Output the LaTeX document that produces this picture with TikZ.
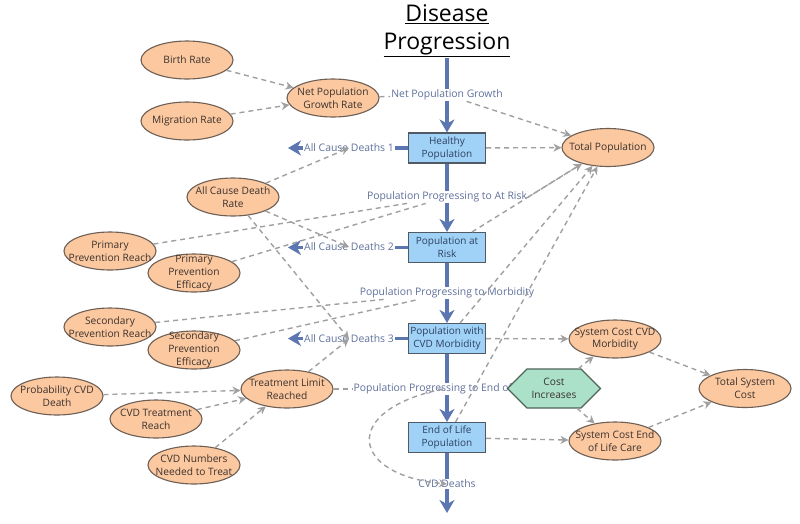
\documentclass[tikz,border=0pt]{standalone}
\usepackage{fontspec}
\setmainfont{Open Sans}
\usetikzlibrary{arrows.meta,shapes.geometric,calc}
\definecolor{ellf}{RGB}{251,200,160}
\definecolor{elld}{RGB}{110,95,85}
\definecolor{boxf}{RGB}{160,210,248}
\definecolor{boxd}{RGB}{80,90,100}
\definecolor{hexf}{RGB}{170,225,200}
\definecolor{hexd}{RGB}{80,100,90}
\definecolor{flowc}{RGB}{92,118,178}
\definecolor{flowt}{RGB}{95,112,155}
\definecolor{depc}{RGB}{160,160,160}
\definecolor{txtc}{RGB}{60,50,45}
\definecolor{boxt}{RGB}{45,65,95}
\begin{document}
\begin{tikzpicture}[x=1pt,y=-1pt,
  ell/.style={ellipse, draw=elld, fill=ellf, line width=1.1pt, minimum width=92pt, minimum height=38pt, inner sep=0pt},
  elltext/.style={align=center, text=txtc, font=\fontsize{10.2}{12.8}\selectfont, inner sep=0pt},
  stock/.style={rectangle, draw=boxd, fill=boxf, line width=1.1pt, minimum width=77pt, minimum height=30pt, inner sep=0pt},
  stocktext/.style={align=center, text=boxt, font=\fontsize{10}{12.8}\selectfont, inner sep=0pt},
  flowlab/.style={fill=white, inner sep=1pt, text=flowt, font=\fontsize{10.4}{12}\selectfont},
  flow/.style={draw=flowc, line width=3.2pt, -{Stealth[length=13pt,width=15pt,inset=4pt]}},
  dep/.style={draw=depc, line width=1.4pt, dash pattern=on 5pt off 4pt, -{Stealth[length=8pt,width=8pt,inset=2.5pt]}},
  link/.style={draw=depc, line width=1.4pt, dash pattern=on 5pt off 4pt},
]
\useasboundingbox (0,0) rectangle (800,523);
\fill[white] (0,0) rectangle (800,523);

% title
\node[font=\fontsize{23}{28}\selectfont, align=center, inner sep=0pt] (title) at (447,31) {\underline{Disease}\\\underline{Progression}};

% stocks
\node[stock, label={[stocktext]center:{Healthy\\Population}}] (healthy) at (447,148) {};
\node[stock, label={[stocktext]center:{Population at\\Risk}}] (risk) at (447,247.5) {};
\node[stock, label={[stocktext]center:{Population with\\CVD Morbidity}}] (morb) at (447,338.5) {};
\node[stock, label={[stocktext]center:{End of Life\\Population}}] (eol) at (447,437.5) {};

% variables
\node[ell, label={[elltext]center:{Birth Rate}}] (birth) at (187,60) {};
\node[ell, label={[elltext]center:{Migration Rate}}] (migr) at (187,121) {};
\node[ell, label={[elltext]center:{Net Population\\Growth Rate}}] (netpop) at (333,98) {};
\node[ell, label={[elltext]center:{Total Population}}] (totpop) at (608,147.5) {};
\node[ell, label={[elltext]center:{All Cause Death\\Rate}}] (acdr) at (233,197) {};
\node[ell, label={[elltext]center:{Primary\\Prevention Reach}}] (preach) at (110,251) {};
\node[ell, label={[elltext]center:{Primary\\Prevention\\Efficacy}}] (peff) at (194,273) {};
\node[ell, label={[elltext]center:{Secondary\\Prevention Reach}}] (sreach) at (110,327) {};
\node[ell, label={[elltext]center:{Secondary\\Prevention\\Efficacy}}] (seff) at (194,350) {};
\node[ell, label={[elltext]center:{Probability CVD\\Death}}] (prob) at (57,396) {};
\node[ell, label={[elltext]center:{CVD Treatment\\Reach}}] (treach) at (156,419) {};
\node[ell, label={[elltext]center:{CVD Numbers\\Needed to Treat}}] (nnt) at (194,465) {};
\node[ell, label={[elltext]center:{Treatment Limit\\Reached}}] (tlr) at (287,389) {};
\node[ell, label={[elltext]center:{System Cost CVD\\Morbidity}}] (sccvd) at (615,339) {};
\node[ell, label={[elltext]center:{System Cost End\\of Life Care}}] (sceol) at (615,441) {};
\node[ell, label={[elltext]center:{Total System\\Cost}}] (totsys) at (745,388.5) {};

% flows
\coordinate (src) at (447,58);
\coordinate (sink) at (447,513);
\coordinate (d1) at (288,148);
\coordinate (d2) at (288,247.5);
\coordinate (d3) at (288,338.5);
\draw[flow] (src) -- (healthy);
\draw[flow] (healthy) -- (risk);
\draw[flow] (risk) -- (morb);
\draw[flow] (morb) -- (eol);
\draw[flow] (eol) -- (sink);
\draw[flow] (healthy) -- (d1);
\draw[flow] (risk) -- (d2);
\draw[flow] (morb) -- (d3);

\node[flowlab] (ngrowth) at (447,95) {Net Population Growth};
\node[flowlab] (acd1) at (349,148) {All Cause Deaths 1};
\node[flowlab] (prog1) at (447,197) {Population Progressing to At Risk};
\node[flowlab] (acd2) at (349,247) {All Cause Deaths 2};
\node[flowlab] (prog2) at (447,293) {Population Progressing to Morbidity};
\node[flowlab] (acd3) at (349,339) {All Cause Deaths 3};
\node[flowlab] (prog3) at (443,389) {Population Progressing to End of Life};
\node[flowlab] (cvdd) at (447,484) {CVD Deaths};

% dependencies
\draw[dep] (birth) -- (netpop);
\draw[dep] (migr) -- (netpop);
\draw[link] (netpop) -- (ngrowth);
\draw[dep] (ngrowth) -- (totpop);
\draw[dep] (healthy) -- (totpop);
\draw[dep] (prog1.east) -- (totpop);
\draw[dep] (risk) -- (totpop);
\draw[dep] (morb) -- (totpop);
\draw[dep] (eol) -- (totpop);
\draw[dep] (acdr) -- (acd1.center);
\draw[dep] (acdr) -- (acd2.center);
\draw[dep] (acdr) -- (acd3.center);
\draw[link] (preach) -- (prog1);
\draw[link] (peff) -- (prog1);
\draw[link] (sreach) -- (prog2);
\draw[link] (seff) -- (prog2);
\draw[dep] (prob) -- (tlr);
\draw[dep] (treach) -- (tlr);
\draw[dep] (nnt) -- (tlr);
\draw[dep] (tlr) -- (acd3.center);
\draw[link] (tlr) -- (prog3);
\draw[dep] (prog3.center) .. controls (340,410) and (350,475) .. (cvdd.center);
\draw[dep] (morb) -- (sccvd);
\draw[dep] (eol) -- (sceol);

% cost increases hexagon
\coordinate (costc) at (554,388.5);
\draw[draw=hexd, fill=hexf, line width=1.1pt] ($(costc)+(-46.5,0)$) -- ($(costc)+(-27,-19.5)$) -- ($(costc)+(27,-19.5)$) -- ($(costc)+(46.5,0)$) -- ($(costc)+(27,19.5)$) -- ($(costc)+(-27,19.5)$) -- cycle;
\node[align=center, text=txtc, font=\fontsize{10.2}{12.8}\selectfont, inner sep=0pt, minimum width=93pt, minimum height=39pt] (cost) at (costc) {Cost\\Increases};

\draw[dep] (cost) -- (sccvd);
\draw[dep] (cost) -- (sceol);
\draw[dep] (sccvd) -- (totsys);
\draw[dep] (sceol) -- (totsys);
\end{tikzpicture}
\end{document}
